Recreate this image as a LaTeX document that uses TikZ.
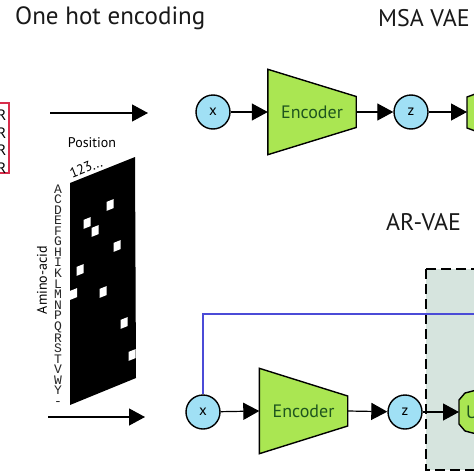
\documentclass[tikz,border=0pt]{standalone}
\usepackage{fontspec}
\setmainfont{PT Sans}
\newfontfamily\monofnt{Liberation Mono}
\usetikzlibrary{arrows.meta,calc}
\definecolor{cblue}{RGB}{160,224,245}
\definecolor{cgreen}{RGB}{170,230,82}
\definecolor{ctext}{RGB}{30,85,30}
\definecolor{cline}{RGB}{75,75,215}
\definecolor{cbox}{RGB}{214,228,222}
\definecolor{cred}{RGB}{215,45,75}
\tikzset{
  circ/.style={circle,draw=black,line width=1.4pt,fill=cblue,minimum size=34pt,inner sep=0pt,font=\fontsize{15}{15}\selectfont},
  encbox/.style={minimum width=88pt,minimum height=85pt,inner sep=0pt,font=\fontsize{18}{18}\selectfont,text=ctext},
  encshape/.style={draw=black,line width=1.4pt,fill=cgreen,line join=miter},
  conn/.style={line width=1.2pt,-{Triangle[length=16pt,width=17pt]}},
  title/.style={font=\fontsize{25}{25}\selectfont,text=black!90,inner sep=0pt},
  small/.style={font=\fontsize{14}{14}\selectfont,inner sep=0pt},
  letters/.style={font=\monofnt\fontsize{13}{10.55}\selectfont,inner sep=0pt,text=black!85,align=center},
  sq/.style={fill=white,draw=none}
}
\begin{document}
\begin{tikzpicture}[x=1pt,y=-1pt]
\useasboundingbox (0,0) rectangle (474,474);
\clip (0,0) rectangle (474,474);
\fill[white] (0,0) rectangle (474,474);

% titles
\node[title,anchor=west] (t1) at (15,18) {One hot encoding};
\node[title,anchor=west,font=\fontsize{24}{24}\selectfont] (t2) at (378,18) {MSA VAE};
\node[title,anchor=west,font=\fontsize{24}{24}\selectfont] (t3) at (386,222) {AR-VAE};

% red box with sequences
\draw[cred,line width=1.4pt] (-5,103) rectangle (9,173);
\foreach \yy in {115,133,150,168}{
  \node[font=\fontsize{15}{15}\selectfont,inner sep=0pt,anchor=east] at (6.5,\yy) {R};
}

% one hot matrix
\node[small] (pos) at (92,143) {Position};
\node[small,rotate=90] (aa) at (42,280) {Amino-acid};
\fill[black] (70,183) -- (135,157) -- (136,378) -- (70,405) -- cycle;
\node[font=\fontsize{14}{14}\selectfont,rotate=21.8,inner sep=0pt,anchor=south west] (nums) at (72,179) {123...};
\node[letters] (col) at (58,295) {A\\C\\D\\E\\F\\G\\H\\I\\K\\L\\M\\N\\P\\Q\\R\\S\\T\\V\\W\\Y\\-};
\foreach \px/\py in {110/205,87/223,95/231,117/246,80/270,73.5/294,103/292,124/323,132/355}{
  \fill[sq] ({\px-3.5},{\py-4.5+1.4}) -- ({\px+3.5},{\py-4.5-1.4}) -- ({\px+3.5},{\py+4.5-1.4}) -- ({\px-3.5},{\py+4.5+1.4}) -- cycle;
}

% input arrows
\coordinate (a1s) at (50,113);
\coordinate (a1e) at (148,113);
\coordinate (a2s) at (48,417);
\coordinate (a2e) at (145,417);
\draw[conn] (a1s) -- (a1e);
\draw[conn] (a2s) -- (a2e);

% MSA VAE row
\node[circ] (x1) at (213,112) {x};
\node[encbox] (enc1) at (312,112) {};
\draw[encshape] (enc1.north west) -- ($(enc1.east)+(0,-15.5)$) -- ($(enc1.east)+(0,15.5)$) -- (enc1.south west) -- cycle;
\node[encbox] at (enc1.center) {Encoder};
\node[circ] (z1) at (411,112) {z};
\coordinate (dec1) at (467,112);
\draw[encshape] (467,97) -- (500,85) -- (500,140) -- (467,128) -- cycle;
\draw[conn] (x1) -- (enc1.west);
\draw[conn] (enc1.east) -- (z1);
\draw[conn] (z1) -- (dec1);

% AR-VAE row
\draw[black,line width=1.6pt,dash pattern=on 10pt off 5pt,fill=cbox] (426,269) rectangle (500,470);
\node[circ] (x2) at (203,412) {x};
\node[encbox] (enc2) at (303.5,411) {};
\draw[encshape] (enc2.north west) -- ($(enc2.east)+(0,-15)$) -- ($(enc2.east)+(0,15)$) -- (enc2.south west) -- cycle;
\node[encbox] at (enc2.center) {Encoder};
\node[circ] (z2) at (405,412) {z};
\coordinate (dec2) at (459,412);
\draw[encshape] (465,393) -- (459,400) -- (459,424) -- (465,431) -- (500,440) -- (500,384) -- cycle;
\node[font=\fontsize{18}{18}\selectfont,text=ctext,inner sep=0pt,anchor=west] (u) at (466,412) {U};
\draw[conn] (x2) -- (enc2.west);
\draw[conn] (enc2.east) -- (z2);
\draw[conn] (z2) -- (dec2);
\coordinate (bend) at (480,314);
\draw[cline,line width=1.4pt] (x2.north) |- (bend);
\end{tikzpicture}
\end{document}
